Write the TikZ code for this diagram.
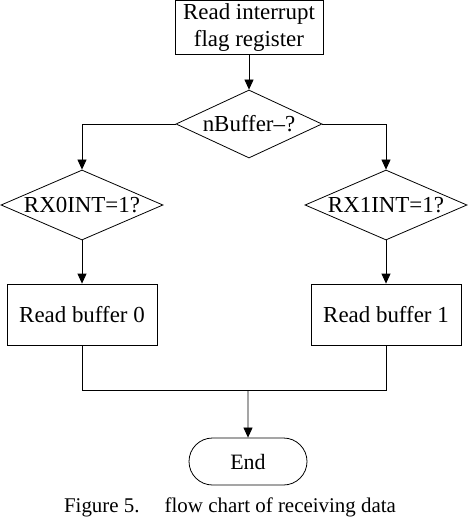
\documentclass[tikz,border=0pt]{standalone}
\usepackage{fontspec}
\setmainfont{Liberation Serif}
\usetikzlibrary{positioning,arrows.meta,shapes.geometric,shapes.misc}
\tikzset{
  >={Triangle[length=10bp,width=9bp]},
  procbox/.style={
    rectangle,
    draw=black, line width=0.8bp,
    inner sep=0pt,
    align=center,
    font=\fontsize{23}{27}\selectfont},
  decision/.style={
    diamond,
    aspect=2.3,
    draw=black, line width=0.8bp,
    inner sep=0pt,
    font=\fontsize{23}{27}\selectfont},
  terminal/.style={
    rounded rectangle,
    draw=black, line width=0.8bp,
    inner sep=0pt,
    font=\fontsize{22}{26}\selectfont},
  line/.style={draw, line width=0.8bp},
}
\begin{document}
\begin{tikzpicture}[x=1bp, y=-1bp]
  \useasboundingbox (0,0) rectangle (468,522);
  % process steps
  \node[procbox, minimum width=148bp, minimum height=54bp] (readflag) at (249,27.5)
    {Read interrupt\\flag register};
  \node[decision, aspect=2.15, minimum width=146bp, minimum height=68bp] (nbuf) at (249,124)
    {nBuffer--?};
  \node[decision, minimum width=162bp, minimum height=70bp] (rx0) at (82,205)
    {RX0INT=1?};
  \node[decision, minimum width=162bp, minimum height=70bp] (rx1) at (386,205)
    {RX1INT=1?};
  \node[procbox, minimum width=150bp, minimum height=61bp] (buf0) at (82,314.5)
    {Read buffer 0};
  \node[procbox, minimum width=150bp, minimum height=61bp] (buf1) at (386,314.5)
    {Read buffer 1};
  \node[terminal, minimum width=118bp, minimum height=47bp] (end) at (248,461.5)
    {End};
  \coordinate (join0) at (82,390);
  \coordinate (join1) at (386,390);
  \coordinate (merge) at (248,390);
  % connectors
  \path[line, ->] (readflag) -- (nbuf);
  \path[line, ->] (nbuf.west) -| (rx0.north);
  \path[line, ->] (nbuf.east) -| (rx1.north);
  \path[line, ->] (rx0) -- (buf0);
  \path[line, ->] (rx1) -- (buf1);
  \path[line] (buf0.south) -- (join0) -- (join1) -- (buf1.south);
  \path[line, ->] (merge) -- (end);
  % caption
  \node[font=\fontsize{21}{25}\selectfont] (caption) at (230,507)
    {Figure 5.\hspace{1.2em}flow chart of receiving data};
\end{tikzpicture}
\end{document}
